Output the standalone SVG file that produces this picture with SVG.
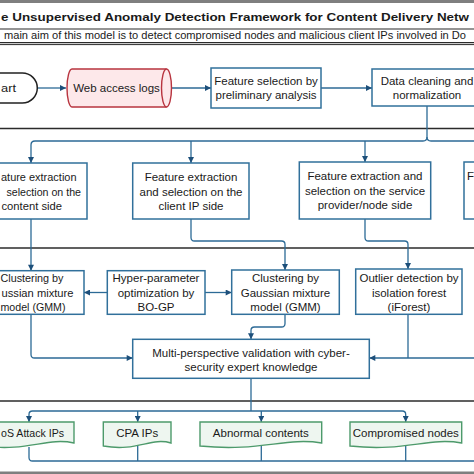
<svg xmlns="http://www.w3.org/2000/svg" width="474" height="474" viewBox="0 0 474 474">
<style>
text{font-family:"Liberation Sans",Arial,sans-serif;font-size:11.5px;fill:#1a1a1a}
.c{text-anchor:middle}
.e{text-anchor:end}
.box{fill:#fff;stroke:#31709b;stroke-width:1.5}
.doc{fill:#eef6f0;stroke:#4d9a6b;stroke-width:1.4}
.cyl{fill:#fde8ea;stroke:#b8343f;stroke-width:1.4}
.lane{stroke:#2b2b2b;stroke-width:1.5}
.con{fill:none;stroke:#2c6a96;stroke-width:1.3}
.arr{marker-end:url(#ah)}
</style>
<defs>
<marker id="ah" viewBox="0 0 10 10" refX="10" refY="5" markerWidth="7" markerHeight="6" markerUnits="userSpaceOnUse" orient="auto"><path d="M0,0 L10,5 L0,10 z" fill="#1d4f7a"/></marker>
</defs>
<rect x="0" y="0" width="474" height="474" fill="#fff"/>
<rect x="0" y="0" width="474" height="3" fill="#7f7f7f"/>
<rect x="0" y="471.5" width="474" height="2.5" fill="#7f7f7f"/>

<g id="title">
<text x="1" y="20.5" font-weight="bold" font-size="15" textLength="468" lengthAdjust="spacingAndGlyphs">e Unsupervised Anomaly Detection Framework for Content Delivery Netw</text>
<line x1="0" y1="29" x2="474" y2="29" stroke="#2b2b2b" stroke-width="1.2"/>
<line x1="0" y1="42.6" x2="474" y2="42.6" stroke="#2b2b2b" stroke-width="1.2"/>
<line x1="0" y1="44.6" x2="474" y2="44.6" stroke="#2b2b2b" stroke-width="1"/>
<text x="4" y="39" font-size="11" textLength="462" lengthAdjust="spacingAndGlyphs">main aim of this model is to detect compromised nodes and malicious client IPs involved in Do</text>
</g>

<g id="lanes">
<line class="lane" x1="0" y1="128.5" x2="474" y2="128.5"/>
<line class="lane" x1="0" y1="248" x2="474" y2="248"/>
<line class="lane" x1="0" y1="401" x2="474" y2="401"/>
</g>

<g id="connectors">
<path class="con arr" d="M37.3,88 H66"/>
<path class="con arr" d="M172,88 H211"/>
<path class="con arr" d="M321,88 H372"/>
<path class="con arr" d="M427,106 V137 Q427,141 423,141 H35 Q31,141 31,145 V163"/>
<path class="con" d="M427,137 Q427,141 431,141 H480"/>
<path class="con arr" d="M191,141 V163"/>
<path class="con arr" d="M365,141 V162"/>
<path class="con arr" d="M31,219 V270.7"/>
<path class="con arr" d="M191,219 V237.5 Q191,241 194.5,241 H281.5 Q285,241 285,244.5 V270"/>
<path class="con arr" d="M365,219 V237.5 Q365,241 368.5,241 H404.5 Q408,241 408,244.5 V269"/>
<path class="con arr" d="M107.3,292.5 H84"/>
<path class="con arr" d="M205,292.5 H231.7"/>
<path class="con arr" d="M31,314.3 V354.5 Q31,358 34.5,358 H132.7"/>
<path class="con arr" d="M285,314.3 V323.5 Q285,327 281.5,327 H254.5 Q251,327 251,330.5 V339.3"/>
<path class="con" d="M408,314.3 V358"/>
<path class="con arr" d="M480,358 H369.3"/>
<path class="con" d="M251,378.3 V411"/>
<path class="con arr" d="M251,411 H32.5 Q29,411 29,414.5 V422"/>
<path class="con arr" d="M251,411 H402.2 Q405.7,411 405.7,414.5 V422"/>
<path class="con arr" d="M137.7,411 V422"/>
<path class="con arr" d="M261.3,411 V422"/>
<path class="con" d="M29,447 V457.5 Q29,461 32.5,461 H480"/>
<path class="con" d="M137.7,444.5 V461"/>
<path class="con" d="M261.3,446 V461"/>
<path class="con" d="M405.7,445 V461"/>
</g>

<g id="start">
<rect x="-45" y="73" width="82.3" height="30" rx="15" fill="#fff" stroke="#222" stroke-width="1.5"/>
<text x="1" y="92" textLength="15" lengthAdjust="spacingAndGlyphs">art</text>
</g>

<g id="weblogs">
<path class="cyl" d="M72,69 H166.5 A5,19 0 0 1 166.5,107 H72 A5,19 0 0 1 72,69 Z"/>
<path fill="none" stroke="#b8343f" stroke-width="1.4" d="M166.5,69 A5,19 0 0 0 166.5,107"/>
<text class="c" x="116.5" y="92">Web access logs</text>
</g>

<g id="featsel">
<rect class="box" x="211" y="68" width="110" height="40"/>
<text class="c" x="266" y="84.5">Feature selection by</text>
<text class="c" x="266" y="99">preliminary analysis</text>
</g>

<g id="clean">
<rect class="box" x="372" y="69" width="110" height="37"/>
<text class="c" x="427" y="85">Data cleaning and</text>
<text class="c" x="427" y="99">normalization</text>
</g>

<g id="fe-content">
<rect class="box" x="-25" y="163" width="112" height="56"/>
<text x="1" y="181" textLength="75.5" lengthAdjust="spacingAndGlyphs">ature extraction</text>
<text x="6.5" y="195.5" textLength="74.5" lengthAdjust="spacingAndGlyphs">selection on the</text>
<text x="1.5" y="210" textLength="60.5" lengthAdjust="spacingAndGlyphs">content side</text>
</g>

<g id="fe-client">
<rect class="box" x="132.7" y="163" width="116.3" height="56"/>
<text class="c" x="191" y="181">Feature extraction</text>
<text class="c" x="191" y="195.5">and selection on the</text>
<text class="c" x="191" y="210">client IP side</text>
</g>

<g id="fe-node">
<rect class="box" x="299.3" y="162" width="131.4" height="57"/>
<text class="c" x="365" y="180">Feature extraction and</text>
<text class="c" x="365" y="194.5">selection on the service</text>
<text class="c" x="365" y="209">provider/node side</text>
</g>

<g id="fe-fourth">
<rect class="box" x="464" y="162" width="60" height="57"/>
<text x="467" y="180">F</text>
</g>

<g id="gmm-left">
<rect class="box" x="-22" y="270.7" width="106" height="43.6"/>
<text x="0.5" y="281.5" textLength="63" lengthAdjust="spacingAndGlyphs">Clustering by</text>
<text x="1.5" y="296.5" textLength="72" lengthAdjust="spacingAndGlyphs">ussian mixture</text>
<text x="0.5" y="311" textLength="65" lengthAdjust="spacingAndGlyphs">model (GMM)</text>
</g>

<g id="bogp">
<rect class="box" x="107.3" y="270.7" width="97.7" height="43.6"/>
<text class="c" x="156" y="281.5">Hyper-parameter</text>
<text class="c" x="156" y="296.5">optimization by</text>
<text class="c" x="156" y="311">BO-GP</text>
</g>

<g id="gmm">
<rect class="box" x="231.7" y="270" width="107.6" height="44.3"/>
<text class="c" x="285.5" y="281.5">Clustering by</text>
<text class="c" x="285.5" y="296.5">Gaussian mixture</text>
<text class="c" x="285.5" y="311">model (GMM)</text>
</g>

<g id="iforest">
<rect class="box" x="355.7" y="269" width="106.3" height="45.3"/>
<text class="c" x="409" y="281.5">Outlier detection by</text>
<text class="c" x="409" y="296.5">isolation forest</text>
<text class="c" x="409" y="311">(iForest)</text>
</g>

<g id="validation">
<rect class="box" x="132.7" y="339.3" width="236.6" height="39"/>
<text class="c" x="251" y="356.5">Multi-perspective validation with cyber-</text>
<text class="c" x="251" y="370.5">security expert knowledge</text>
</g>

<g id="out-ddos">
<path class="doc" d="M-17,422 H74 V443 C46.7,437 28.5,452 -17,446 Z"/>
<text x="1" y="437" textLength="63" lengthAdjust="spacingAndGlyphs">oS Attack IPs</text>
</g>

<g id="out-cpa">
<path class="doc" d="M103.3,422 H171 V443 C150.7,437 137.2,452 103.3,446 Z"/>
<text class="c" x="137.2" y="437">CPA IPs</text>
</g>

<g id="out-abnormal">
<path class="doc" d="M200,422 H321.7 V443 C285.2,437 260.8,452 200,446 Z"/>
<text class="c" x="260.8" y="437">Abnormal contents</text>
</g>

<g id="out-compromised">
<path class="doc" d="M350,422 H461.7 V443 C428.2,437 405.8,452 350,446 Z"/>
<text class="c" x="405.8" y="437">Compromised nodes</text>
</g>
</svg>
